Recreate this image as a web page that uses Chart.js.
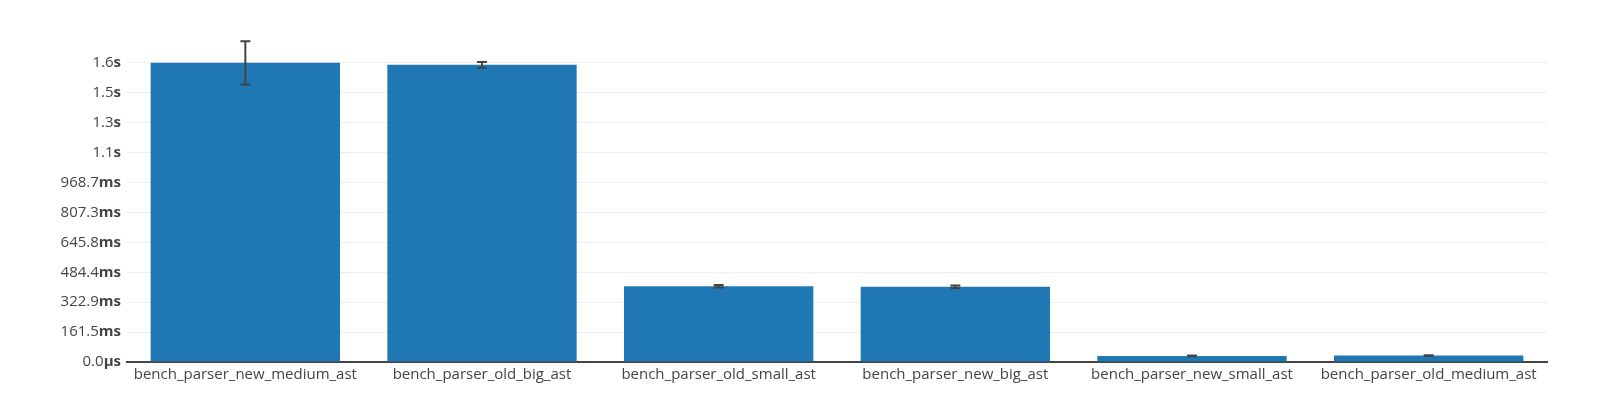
<!DOCTYPE html>
<html>
<head>
<meta charset="utf-8">
<script src="https://cdn.jsdelivr.net/npm/chart.js@4/dist/chart.umd.min.js"></script>
<style>
  body { margin: 0; background: #fff; }
  #wrap { width: 1603px; height: 414px; }
</style>
</head>
<body>
<div id="wrap"><canvas id="chart" width="1603" height="414"></canvas></div>
<script>
// ============================
// DATA (times in ms)
// ============================
const benchNames = [
  "bench_parser_new_medium_ast",
  "bench_parser_old_big_ast",
  "bench_parser_old_small_ast",
  "bench_parser_new_big_ast",
  "bench_parser_new_small_ast",
  "bench_parser_old_medium_ast"
];
const meanTimes = [1614.6, 1603.8, 408.5, 406.4, 32.5, 34.7];
const errTimes = [117, 16, 7, 7, 2, 2];

const yTickValues = [0, 161.46, 322.92, 484.38, 645.84, 807.3, 968.76, 1130.22, 1291.68, 1453.14, 1614.6];
const yTickNums = ["0.0", "161.5", "322.9", "484.4", "645.8", "807.3", "968.7", "1.1", "1.3", "1.5", "1.6"];
const yTickUnits = ["μs", "ms", "ms", "ms", "ms", "ms", "ms", "s", "s", "s", "s"];

const FONT = "'Open Sans', sans-serif";
const FSIZE = 15;

// ============================
// PLUGINS
// ============================
const errorBars = {
  id: "errorBars",
  afterDatasetsDraw(chart) {
    const ctx = chart.ctx;
    const y = chart.scales.y;
    const meta = chart.getDatasetMeta(0);
    ctx.save();
    ctx.strokeStyle = "#444";
    ctx.lineWidth = 2;
    meta.data.forEach((bar, i) => {
      const top = y.getPixelForValue(meanTimes[i] + errTimes[i]);
      const bot = y.getPixelForValue(meanTimes[i] - errTimes[i]);
      ctx.beginPath();
      ctx.moveTo(bar.x, top);
      ctx.lineTo(bar.x, bot);
      ctx.moveTo(bar.x - 5, top);
      ctx.lineTo(bar.x + 5, top);
      ctx.moveTo(bar.x - 5, bot);
      ctx.lineTo(bar.x + 5, bot);
      ctx.stroke();
    });
    ctx.restore();
  }
};

// y labels: number regular, unit bold
const yLabels = {
  id: "yLabels",
  afterDraw(chart) {
    const ctx = chart.ctx;
    const y = chart.scales.y;
    const right = chart.chartArea.left - 6;
    ctx.save();
    ctx.fillStyle = "#444";
    ctx.textBaseline = "middle";
    ctx.textAlign = "left";
    yTickValues.forEach((v, i) => {
      const py = y.getPixelForValue(v);
      ctx.font = "bold " + FSIZE + "px " + FONT;
      const wu = ctx.measureText(yTickUnits[i]).width;
      ctx.font = FSIZE + "px " + FONT;
      const wn = ctx.measureText(yTickNums[i]).width;
      const x0 = right - wu - wn;
      ctx.fillText(yTickNums[i], x0, py);
      ctx.font = "bold " + FSIZE + "px " + FONT;
      ctx.fillText(yTickUnits[i], x0 + wn, py);
    });
    ctx.restore();
  }
};

// ============================
// CHART
// ============================
new Chart(document.getElementById("chart"), {
  type: "bar",
  data: {
    labels: benchNames,
    datasets: [{
      data: meanTimes,
      backgroundColor: "#1f77b4",
      categoryPercentage: 0.8,
      barPercentage: 1.0
    }]
  },
  options: {
    responsive: false,
    animation: false,
    devicePixelRatio: 1,
    layout: { padding: { left: 127, right: 56, top: 20, bottom: 26 } },
    plugins: { legend: { display: false }, tooltip: { enabled: false } },
    scales: {
      x: {
        grid: { display: false, drawTicks: false },
        border: { color: "#444", width: 2 },
        ticks: { color: "#444", font: { family: FONT, size: FSIZE }, padding: 4, maxRotation: 0, autoSkip: false }
      },
      y: {
        min: 0,
        max: 1846,
        afterBuildTicks: s => { s.ticks = yTickValues.map(v => ({ value: v })); },
        grid: { color: "#eee", lineWidth: 1, drawTicks: false },
        border: { display: false },
        ticks: { display: false }
      }
    }
  },
  plugins: [errorBars, yLabels]
});
</script>
</body>
</html>
